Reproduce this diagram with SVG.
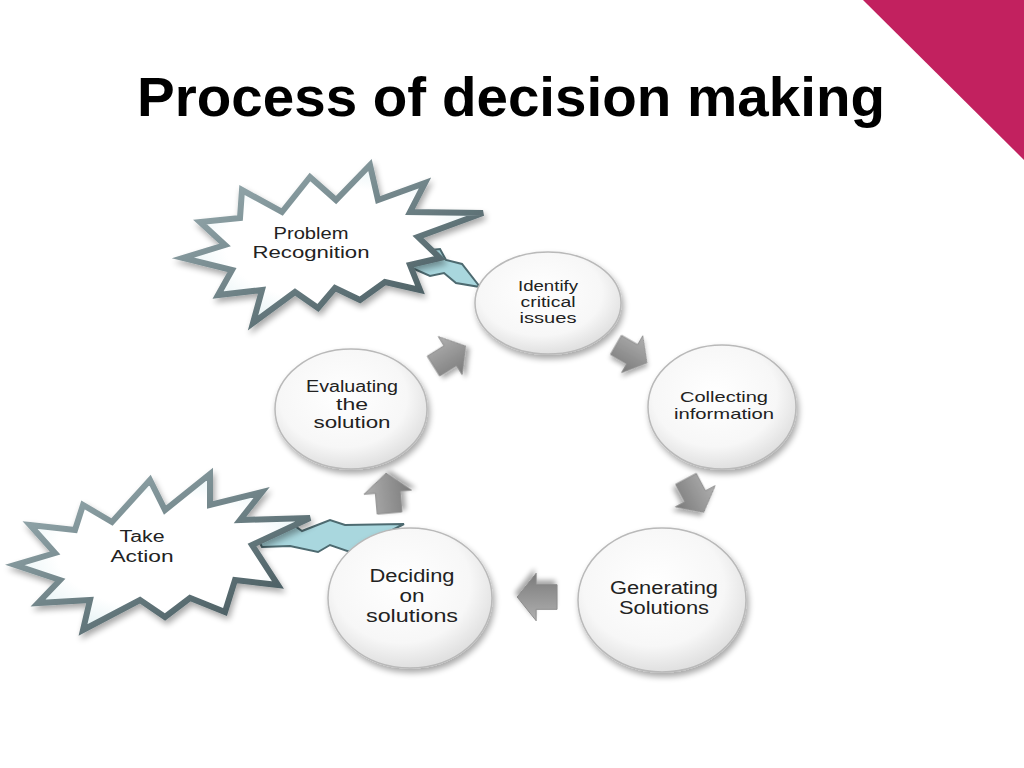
<svg xmlns="http://www.w3.org/2000/svg" width="1024" height="768" viewBox="0 0 1024 768">
<defs>
<radialGradient id="disc" cx="0.45" cy="0.4" r="0.6">
<stop offset="0" stop-color="#ffffff"/>
<stop offset="0.7" stop-color="#f7f7f7"/>
<stop offset="1" stop-color="#e0e0e0"/>
</radialGradient>
<linearGradient id="arrowFill" x1="0" y1="0" x2="0" y2="1">
<stop offset="0" stop-color="#b0b0b0"/>
<stop offset="1" stop-color="#7a7a7a"/>
</linearGradient>
<linearGradient id="rim" x1="0" y1="0" x2="1" y2="1">
<stop offset="0" stop-color="#9fb3b7"/>
<stop offset="1" stop-color="#3c4f54"/>
</linearGradient>
<radialGradient id="starFill" cx="0.5" cy="0.5" r="0.6">
<stop offset="0.6" stop-color="#ffffff"/>
<stop offset="1" stop-color="#dceef1"/>
</radialGradient>
<filter id="shadow" x="-20%" y="-20%" width="150%" height="150%">
<feGaussianBlur in="SourceAlpha" stdDeviation="3"/>
<feOffset dx="2" dy="4" result="b"/>
<feComponentTransfer><feFuncA type="linear" slope="0.35"/></feComponentTransfer>
<feMerge><feMergeNode/><feMergeNode in="SourceGraphic"/></feMerge>
</filter>
<polygon id="blockArrow" points="-19,-13 3,-13 3,-25 23,0 3,25 3,13 -19,13"/>
</defs>
<style>
.disc{fill:url(#disc);stroke:#b9b9b9;stroke-width:1.5;filter:url(#shadow)}
.lbl{font-family:"Liberation Sans",Arial,sans-serif;fill:#222;text-anchor:middle}
.star{fill:url(#starFill);stroke:url(#rim);stroke-width:6;stroke-linejoin:miter;filter:url(#shadow)}
.tail{fill:#a9d7de;stroke:#4d6a70;stroke-width:2;stroke-linejoin:miter}
.arr{fill:url(#arrowFill);stroke:#8a8a8a;stroke-width:1;filter:url(#shadow)}
</style>
<rect width="1024" height="768" fill="#ffffff"/>
<polygon points="863,0 1024,0 1024,160" fill="#c2215f"/>
<text x="137" y="116" font-family="Liberation Sans,Arial,sans-serif" font-weight="bold" font-size="56" fill="#000" textLength="748" lengthAdjust="spacingAndGlyphs">Process of decision making</text>

<g id="connectors">
<use href="#blockArrow" class="arr" transform="translate(448,357) rotate(-32) scale(0.9)"/>
<use href="#blockArrow" class="arr" transform="translate(630,353) rotate(30) scale(0.85)"/>
<use href="#blockArrow" class="arr" transform="translate(694,494) rotate(62) scale(0.9)"/>
<use href="#blockArrow" class="arr" transform="translate(539,597) rotate(180) scale(0.95)"/>
<use href="#blockArrow" class="arr" transform="translate(388,495) rotate(-95) scale(0.95)"/>
<polygon class="tail" points="410,252 440,249 446,260 462,264 480,287 456,283 444,273 430,276 412,268"/>
<polygon class="tail" points="255,533 295,526 302,531 330,520 345,525 404,524 350,552 330,545 318,552 290,546 262,547"/>
</g>

<g id="problem-recognition">
<polygon class="star" points="242,190 282,212 310,177 336,200 370,165 378,200 425,183 410,212 483,213 418,237 440,258 410,265 420,290 385,282 360,300 335,288 318,308 295,292 253,323 262,290 218,295 232,270 183,258 225,245 200,222 240,218"/>
<text class="lbl" x="311" y="239" font-size="16" textLength="75" lengthAdjust="spacingAndGlyphs">Problem</text>
<text class="lbl" x="311" y="258" font-size="16" textLength="117" lengthAdjust="spacingAndGlyphs">Recognition</text>
</g>

<g id="take-action">
<polygon class="star" points="30,525 75,530 83,505 112,522 150,480 165,510 210,474 210,505 262,492 240,520 310,518 252,545 278,585 235,580 225,612 190,598 165,617 140,600 83,630 90,600 38,603 60,580 15,565 55,553"/>
<text class="lbl" x="142" y="542" font-size="16" textLength="45" lengthAdjust="spacingAndGlyphs">Take</text>
<text class="lbl" x="142" y="562" font-size="16" textLength="63" lengthAdjust="spacingAndGlyphs">Action</text>
</g>

<g id="identify">
<ellipse class="disc" cx="548" cy="303" rx="73" ry="51"/>
<text class="lbl" x="548" y="291" font-size="14" textLength="60" lengthAdjust="spacingAndGlyphs">Identify</text>
<text class="lbl" x="548" y="307" font-size="14" textLength="55" lengthAdjust="spacingAndGlyphs">critical</text>
<text class="lbl" x="548" y="323" font-size="14" textLength="57" lengthAdjust="spacingAndGlyphs">issues</text>
</g>

<g id="collecting">
<ellipse class="disc" cx="722" cy="407" rx="74" ry="62"/>
<text class="lbl" x="724" y="402" font-size="15" textLength="88" lengthAdjust="spacingAndGlyphs">Collecting</text>
<text class="lbl" x="724" y="419" font-size="15" textLength="100" lengthAdjust="spacingAndGlyphs">information</text>
</g>

<g id="generating">
<ellipse class="disc" cx="662" cy="600" rx="84" ry="72"/>
<text class="lbl" x="664" y="594" font-size="18" textLength="108" lengthAdjust="spacingAndGlyphs">Generating</text>
<text class="lbl" x="664" y="614" font-size="18" textLength="90" lengthAdjust="spacingAndGlyphs">Solutions</text>
</g>

<g id="deciding">
<ellipse class="disc" cx="410" cy="598" rx="82" ry="70"/>
<text class="lbl" x="412" y="582" font-size="18" textLength="85" lengthAdjust="spacingAndGlyphs">Deciding</text>
<text class="lbl" x="412" y="602" font-size="18" textLength="25" lengthAdjust="spacingAndGlyphs">on</text>
<text class="lbl" x="412" y="622" font-size="18" textLength="92" lengthAdjust="spacingAndGlyphs">solutions</text>
</g>

<g id="evaluating">
<ellipse class="disc" cx="351" cy="409" rx="76" ry="60"/>
<text class="lbl" x="352" y="392" font-size="16" textLength="92" lengthAdjust="spacingAndGlyphs">Evaluating</text>
<text class="lbl" x="352" y="410" font-size="16" textLength="32" lengthAdjust="spacingAndGlyphs">the</text>
<text class="lbl" x="352" y="428" font-size="16" textLength="77" lengthAdjust="spacingAndGlyphs">solution</text>
</g>
</svg>
